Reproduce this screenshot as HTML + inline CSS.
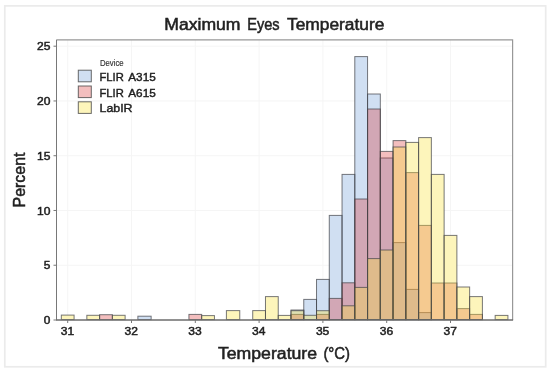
<!DOCTYPE html>
<html><head><meta charset="utf-8"><title>Maximum Eyes Temperature</title>
<style>
html,body{margin:0;padding:0;background:#fff;}
body{width:550px;height:372px;overflow:hidden;position:relative;font-family:"Liberation Sans",sans-serif;}
svg{position:absolute;left:0;top:0;display:block}
text{font-family:"Liberation Sans",sans-serif;}
</style></head><body>
<svg width="550" height="372" viewBox="0 0 550 372">
<rect x="0" y="0" width="550" height="372" fill="#ffffff"/>
<rect x="4.8" y="5.9" width="540.9" height="360.9" fill="#fff" stroke="#ebebeb" stroke-width="1.7"/>
<g stroke="#f5f5f5" stroke-width="1"><line x1="67.70" y1="39.8" x2="67.70" y2="320.0"/><line x1="131.50" y1="39.8" x2="131.50" y2="320.0"/><line x1="195.30" y1="39.8" x2="195.30" y2="320.0"/><line x1="259.10" y1="39.8" x2="259.10" y2="320.0"/><line x1="322.90" y1="39.8" x2="322.90" y2="320.0"/><line x1="386.70" y1="39.8" x2="386.70" y2="320.0"/><line x1="450.50" y1="39.8" x2="450.50" y2="320.0"/><line x1="56.5" y1="265.24" x2="512.6" y2="265.24"/><line x1="56.5" y1="210.48" x2="512.6" y2="210.48"/><line x1="56.5" y1="155.72" x2="512.6" y2="155.72"/><line x1="56.5" y1="100.96" x2="512.6" y2="100.96"/><line x1="56.5" y1="46.20" x2="512.6" y2="46.20"/></g>
<g fill="#fff"><rect x="61.32" y="315.10" width="12.76" height="4.50"/><rect x="86.84" y="315.30" width="12.76" height="4.30"/><rect x="99.60" y="314.70" width="12.76" height="4.90"/><rect x="112.36" y="315.30" width="12.76" height="4.30"/><rect x="137.88" y="316.20" width="12.76" height="3.40"/><rect x="188.92" y="314.40" width="12.76" height="5.20"/><rect x="201.68" y="315.60" width="12.76" height="4.00"/><rect x="227.20" y="310.60" width="12.76" height="9.00"/><rect x="252.72" y="310.60" width="12.76" height="9.00"/><rect x="265.48" y="296.60" width="12.76" height="23.00"/><rect x="278.24" y="315.40" width="12.76" height="4.20"/><rect x="291.00" y="310.00" width="12.76" height="9.60"/><rect x="303.76" y="299.40" width="12.76" height="20.20"/><rect x="316.52" y="279.40" width="12.76" height="40.20"/><rect x="329.28" y="215.40" width="12.76" height="104.20"/><rect x="342.04" y="174.40" width="12.76" height="145.20"/><rect x="354.80" y="56.60" width="12.76" height="263.00"/><rect x="367.56" y="94.00" width="12.76" height="225.60"/><rect x="380.32" y="151.40" width="12.76" height="168.20"/><rect x="393.08" y="140.60" width="12.76" height="179.00"/><rect x="405.84" y="142.40" width="12.76" height="177.20"/><rect x="418.60" y="137.60" width="12.76" height="182.00"/><rect x="431.36" y="174.40" width="12.76" height="145.20"/><rect x="444.12" y="235.40" width="12.76" height="84.20"/><rect x="456.88" y="287.00" width="12.76" height="32.60"/><rect x="469.64" y="296.60" width="12.76" height="23.00"/><rect x="495.16" y="315.40" width="12.76" height="4.20"/></g>
<g fill="rgba(20,95,190,0.2)" stroke="rgba(66,68,74,0.72)" stroke-width="1"><rect x="137.88" y="316.20" width="13.26" height="3.40"/><rect x="291.00" y="310.00" width="12.76" height="9.60"/><rect x="303.76" y="299.40" width="12.76" height="20.20"/><rect x="316.52" y="279.40" width="12.76" height="40.20"/><rect x="329.28" y="215.40" width="12.76" height="104.20"/><rect x="342.04" y="174.40" width="12.76" height="145.20"/><rect x="354.80" y="56.60" width="12.76" height="263.00"/><rect x="367.56" y="94.00" width="12.76" height="225.60"/><rect x="380.32" y="158.00" width="12.76" height="161.60"/><rect x="393.08" y="242.60" width="12.76" height="77.00"/><rect x="405.84" y="289.40" width="12.76" height="30.20"/><rect x="418.60" y="312.60" width="12.76" height="7.00"/></g>
<g fill="rgba(215,40,40,0.3)" stroke="rgba(66,68,74,0.72)" stroke-width="1"><rect x="99.60" y="314.70" width="12.76" height="4.90"/><rect x="188.92" y="314.40" width="12.76" height="5.20"/><rect x="291.00" y="314.40" width="12.76" height="5.20"/><rect x="316.52" y="314.40" width="12.76" height="5.20"/><rect x="329.28" y="298.40" width="12.76" height="21.20"/><rect x="342.04" y="282.80" width="12.76" height="36.80"/><rect x="354.80" y="199.00" width="12.76" height="120.60"/><rect x="367.56" y="109.00" width="12.76" height="210.60"/><rect x="380.32" y="151.40" width="12.76" height="168.20"/><rect x="393.08" y="140.60" width="12.76" height="179.00"/><rect x="405.84" y="172.60" width="12.76" height="147.00"/><rect x="418.60" y="225.40" width="12.76" height="94.20"/><rect x="431.36" y="283.00" width="12.76" height="36.60"/><rect x="444.12" y="283.00" width="12.76" height="36.60"/><rect x="456.88" y="308.60" width="12.76" height="11.00"/><rect x="469.64" y="314.40" width="12.76" height="5.20"/></g>
<g fill="rgba(250,225,60,0.35)" stroke="rgba(66,68,74,0.72)" stroke-width="1"><rect x="61.32" y="315.10" width="12.76" height="4.50"/><rect x="86.84" y="315.30" width="12.76" height="4.30"/><rect x="112.36" y="315.30" width="12.76" height="4.30"/><rect x="201.68" y="315.60" width="12.76" height="4.00"/><rect x="226.40" y="310.60" width="13.36" height="9.00"/><rect x="252.72" y="310.60" width="12.76" height="9.00"/><rect x="265.48" y="296.60" width="12.76" height="23.00"/><rect x="278.24" y="315.40" width="12.76" height="4.20"/><rect x="291.00" y="310.70" width="12.76" height="8.90"/><rect x="303.76" y="315.30" width="12.76" height="4.30"/><rect x="316.52" y="310.70" width="12.76" height="8.90"/><rect x="342.04" y="305.80" width="12.76" height="13.80"/><rect x="354.80" y="287.40" width="12.76" height="32.20"/><rect x="367.56" y="258.60" width="12.76" height="61.00"/><rect x="380.32" y="250.00" width="12.76" height="69.60"/><rect x="393.08" y="147.00" width="12.76" height="172.60"/><rect x="405.84" y="142.40" width="12.76" height="177.20"/><rect x="418.60" y="137.60" width="12.76" height="182.00"/><rect x="431.36" y="174.40" width="12.76" height="145.20"/><rect x="444.12" y="235.40" width="12.76" height="84.20"/><rect x="456.88" y="287.00" width="12.76" height="32.60"/><rect x="469.64" y="296.60" width="12.76" height="23.00"/><rect x="495.16" y="315.40" width="12.76" height="4.20"/></g>

<g fill="none" stroke-width="1">
<path d="M56.5 39.8 H512.6 V320" stroke="#989898" stroke-width="1.2"/>
<path d="M56.5 39.8 V320" stroke="#787878"/>
<path d="M56 319.9 H513.1" stroke="#6c6c6c" stroke-width="1.5"/>
</g>
<g stroke="#787878" stroke-width="1"><line x1="67.70" y1="320.0" x2="67.70" y2="323.0"/><line x1="131.50" y1="320.0" x2="131.50" y2="323.0"/><line x1="195.30" y1="320.0" x2="195.30" y2="323.0"/><line x1="259.10" y1="320.0" x2="259.10" y2="323.0"/><line x1="322.90" y1="320.0" x2="322.90" y2="323.0"/><line x1="386.70" y1="320.0" x2="386.70" y2="323.0"/><line x1="450.50" y1="320.0" x2="450.50" y2="323.0"/><line x1="53.5" y1="320.00" x2="56.5" y2="320.00"/><line x1="53.5" y1="265.24" x2="56.5" y2="265.24"/><line x1="53.5" y1="210.48" x2="56.5" y2="210.48"/><line x1="53.5" y1="155.72" x2="56.5" y2="155.72"/><line x1="53.5" y1="100.96" x2="56.5" y2="100.96"/><line x1="53.5" y1="46.20" x2="56.5" y2="46.20"/></g>
<g font-size="11.5" font-weight="normal" fill="#1e1e1e" stroke="#1e1e1e" stroke-width="0.5"><text x="67.40" y="335.4" text-anchor="middle" textLength="13.4" lengthAdjust="spacingAndGlyphs">31</text><text x="131.20" y="335.4" text-anchor="middle" textLength="13.4" lengthAdjust="spacingAndGlyphs">32</text><text x="195.00" y="335.4" text-anchor="middle" textLength="13.4" lengthAdjust="spacingAndGlyphs">33</text><text x="258.80" y="335.4" text-anchor="middle" textLength="13.4" lengthAdjust="spacingAndGlyphs">34</text><text x="322.60" y="335.4" text-anchor="middle" textLength="13.4" lengthAdjust="spacingAndGlyphs">35</text><text x="386.40" y="335.4" text-anchor="middle" textLength="13.4" lengthAdjust="spacingAndGlyphs">36</text><text x="450.20" y="335.4" text-anchor="middle" textLength="13.4" lengthAdjust="spacingAndGlyphs">37</text><text x="50.4" y="324.20" text-anchor="end" textLength="6.6" lengthAdjust="spacingAndGlyphs">0</text><text x="50.4" y="269.44" text-anchor="end" textLength="6.6" lengthAdjust="spacingAndGlyphs">5</text><text x="50.4" y="214.68" text-anchor="end" textLength="13.4" lengthAdjust="spacingAndGlyphs">10</text><text x="50.4" y="159.92" text-anchor="end" textLength="13.4" lengthAdjust="spacingAndGlyphs">15</text><text x="50.4" y="105.16" text-anchor="end" textLength="13.4" lengthAdjust="spacingAndGlyphs">20</text><text x="50.4" y="50.40" text-anchor="end" textLength="13.4" lengthAdjust="spacingAndGlyphs">25</text></g>
<g font-size="15.6" fill="#222" stroke="#222" stroke-width="0.5">
<text x="164.3" y="29.5" textLength="76.2" lengthAdjust="spacingAndGlyphs">Maximum</text>
<text x="247.2" y="29.5" textLength="32.4" lengthAdjust="spacingAndGlyphs">Eyes</text>
<text x="287" y="29.5" textLength="97.4" lengthAdjust="spacingAndGlyphs">Temperature</text>
<text x="217.9" y="359.2" textLength="99.2" lengthAdjust="spacingAndGlyphs">Temperature</text>
<text x="323.4" y="359.2" textLength="26.6" lengthAdjust="spacingAndGlyphs">(°C)</text>
<text transform="translate(25 180) rotate(-90)" text-anchor="middle" textLength="54.8" lengthAdjust="spacingAndGlyphs">Percent</text>
</g>
<text x="99.9" y="65.9" font-size="8.6" fill="#333" stroke="#333" stroke-width="0.15" textLength="23.7" lengthAdjust="spacingAndGlyphs">Device</text>
<g stroke="rgba(70,70,70,0.8)" stroke-width="1">
<rect x="78.3" y="70.2" width="13" height="11.6" fill="rgba(20,95,190,0.2)"/>
<rect x="78.3" y="86" width="13" height="11.6" fill="rgba(215,40,40,0.3)"/>
<rect x="78.3" y="101.8" width="13" height="11.6" fill="rgba(250,225,60,0.35)"/>
</g>
<g font-size="11.3" font-weight="normal" fill="#1e1e1e" stroke="#1e1e1e" stroke-width="0.42">
<text x="99.5" y="81" textLength="24.3" lengthAdjust="spacingAndGlyphs">FLIR</text>
<text x="128.3" y="81" textLength="27.4" lengthAdjust="spacingAndGlyphs">A315</text>
<text x="99.5" y="96.6" textLength="24.3" lengthAdjust="spacingAndGlyphs">FLIR</text>
<text x="128.3" y="96.6" textLength="27.4" lengthAdjust="spacingAndGlyphs">A615</text>
<text x="99.5" y="112.2" textLength="33" lengthAdjust="spacingAndGlyphs">LabIR</text>
</g>
</svg>
</body></html>
